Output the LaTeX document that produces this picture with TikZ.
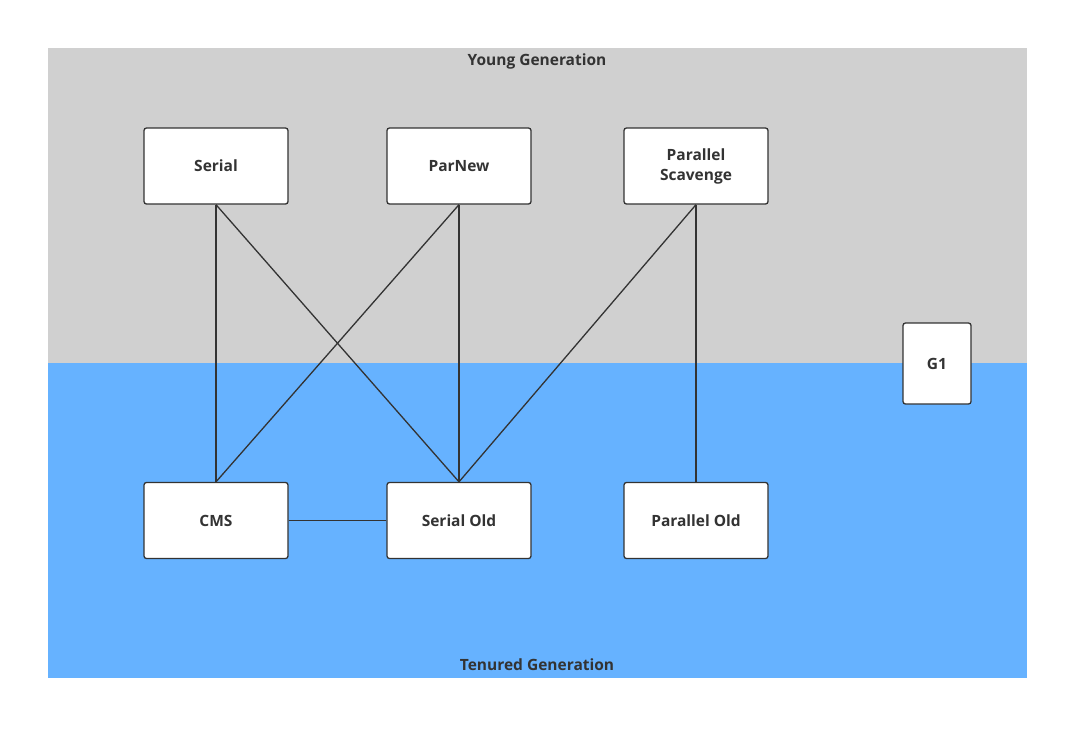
\documentclass[tikz,border=0pt]{standalone}
\usepackage{fontspec}
\setmainfont{Open Sans}
\definecolor{young}{HTML}{D0D0D0}
\definecolor{old}{HTML}{66B2FF}
\definecolor{txt}{HTML}{333333}
\begin{document}
\begin{tikzpicture}[x=1pt,y=-1pt,
  gc/.style={draw=txt,line width=1.3pt,fill=white,rounded corners=2.5pt,minimum width=144pt,minimum height=76pt,align=center,font=\fontsize{15.5}{20}\selectfont\bfseries,text=txt,inner sep=0pt},
  title/.style={font=\fontsize{15.5}{20}\selectfont\bfseries,text=txt},
  link/.style={draw=txt,line width=1.3pt}]
\useasboundingbox (0,0) rectangle (1089,740);
\fill[white] (0,0) rectangle (1089,740);
\fill[young] (48,48) rectangle (1027,363);
\fill[old] (48,363) rectangle (1027,678);
\node[title] (yg) at (537,61) {Young Generation};
\node[title] (tg) at (537,665) {Tenured Generation};
\node[gc] (serial) at (216,166) {Serial};
\node[gc] (parnew) at (459,166) {ParNew};
\node[gc] (ps) at (696,166) {Parallel\\Scavenge};
\node[gc] (cms) at (216,520.5) {CMS};
\node[gc] (so) at (459,520.5) {Serial Old};
\node[gc] (po) at (696,520.5) {Parallel Old};
\node[gc,minimum width=68pt,minimum height=81pt] (g1) at (937,363.5) {G1};
\draw[link] (serial.south) -- (cms.north);
\draw[link] (serial.south) -- (so.north);
\draw[link] (parnew.south) -- (cms.north);
\draw[link] (parnew.south) -- (so.north);
\draw[link] (ps.south) -- (so.north);
\draw[link] (ps.south) -- (po.north);
\draw[link] (cms.east) -- (so.west);
\end{tikzpicture}
\end{document}
